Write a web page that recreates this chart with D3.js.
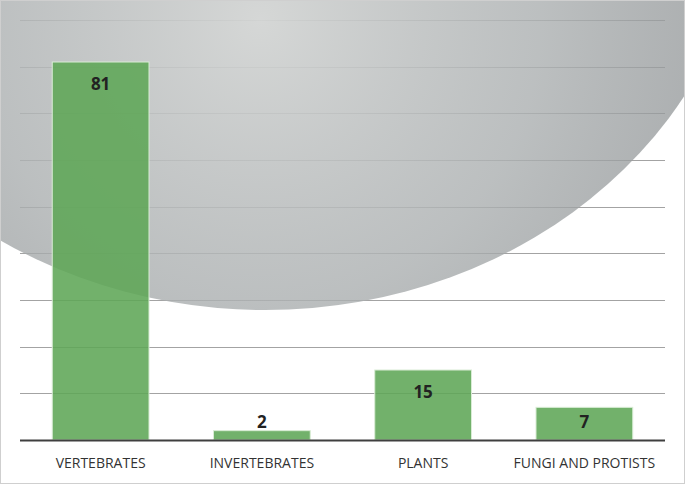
<!DOCTYPE html>
<html lang="en">
<head>
<meta charset="utf-8">
<style>
  body { margin: 0; background: #fff; }
  svg { display: block; }
  .grid line { stroke: #a3a3a3; stroke-width: 1; }
  .bar { fill: #5ea656; fill-opacity: 0.88; stroke: #d9ecd5; stroke-width: 1; }
  .val { font-family: "Open Sans", sans-serif; font-weight: bold; font-size: 17px; fill: #222; }
  .cat text { font-family: "Open Sans", sans-serif; font-size: 14px; fill: #333; }
</style>
<script src="https://d3js.org/d3.v7.min.js"></script>
</head>
<body>
<svg width="685" height="484"></svg>
<script>
// data
var categories = ["VERTEBRATES", "INVERTEBRATES", "PLANTS", "FUNGI AND PROTISTS"];
var values = [81, 2, 15, 7];
var yTicks = [0, 10, 20, 30, 40, 50, 60, 70, 80, 90];

var svg = d3.select("svg"),
    W = +svg.attr("width"),
    H = +svg.attr("height"),
    plotL = 20, plotR = 665, plotT = 20, plotB = 440;

var x = d3.scaleBand().domain(categories).range([plotL, plotR])
    .paddingInner(0.4).paddingOuter(0.2);
var y = d3.scaleLinear().domain([0, 90]).range([plotB, plotT]);

// gridlines (under the grey blob, which is see-through)
svg.append("g").attr("class", "grid")
  .selectAll("line")
  .data(yTicks.slice(1))
  .enter().append("line")
    .attr("x1", plotL).attr("x2", plotR)
    .attr("y1", function(d) { return Math.round(y(d)) + 0.5; })
    .attr("y2", function(d) { return Math.round(y(d)) + 0.5; });

// grey backdrop blob
var defs = svg.append("defs");
var grad = defs.append("radialGradient").attr("id", "blob")
    .attr("gradientUnits", "userSpaceOnUse")
    .attr("cx", 260).attr("cy", 20).attr("r", 470);
grad.append("stop").attr("offset", "0%").attr("stop-color", "#d3d5d4").attr("stop-opacity", 0.95);
grad.append("stop").attr("offset", "60%").attr("stop-color", "#adb1b2").attr("stop-opacity", 0.82);
grad.append("stop").attr("offset", "100%").attr("stop-color", "#8e9294").attr("stop-opacity", 0.75);

svg.append("ellipse")
    .attr("cx", 265).attr("cy", -120)
    .attr("rx", 485).attr("ry", 430)
    .attr("fill", "url(#blob)");

// bars
svg.selectAll(".bar")
    .data(values)
    .enter().append("rect")
    .attr("class", "bar")
    .attr("x", function(d, i) { return x(categories[i]); })
    .attr("y", function(d) { return y(d); })
    .attr("width", x.bandwidth())
    .attr("height", function(d) { return y(0) - y(d); });

// baseline
svg.append("line")
    .attr("x1", plotL).attr("x2", plotR)
    .attr("y1", y(0) + 0.5).attr("y2", y(0) + 0.5)
    .attr("stroke", "#3f3f3f").attr("stroke-width", 2);

// value labels
svg.selectAll(".val")
    .data(values)
    .enter().append("text")
    .attr("class", "val")
    .attr("text-anchor", "middle")
    .attr("dominant-baseline", "central")
    .attr("x", function(d, i) { return x(categories[i]) + x.bandwidth() / 2; })
    .attr("y", function(d) { return Math.min(y(d) + 21, y(0) - 19); })
    .text(function(d) { return d; });

// category axis
var xAxis = svg.append("g").attr("class", "cat")
    .attr("transform", "translate(0," + (plotB + 1) + ")")
    .call(d3.axisBottom(x).tickSize(0).tickPadding(17));
xAxis.select(".domain").remove();

// outer frame
svg.append("rect")
    .attr("x", 0.5).attr("y", 0.5)
    .attr("width", W - 1).attr("height", H - 1)
    .attr("fill", "none").attr("stroke", "#cfcfcf");
</script>
</body>
</html>
